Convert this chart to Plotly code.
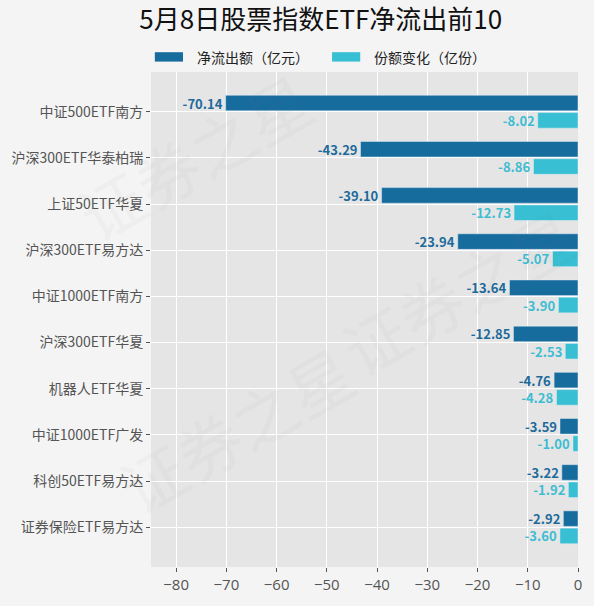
import plotly.graph_objects as go

# 5月8日 股票指数ETF 净流出前10
etf_names = [
    "中证500ETF南方",
    "沪深300ETF华泰柏瑞",
    "上证50ETF华夏",
    "沪深300ETF易方达",
    "中证1000ETF南方",
    "沪深300ETF华夏",
    "机器人ETF华夏",
    "中证1000ETF广发",
    "科创50ETF易方达",
    "证券保险ETF易方达",
]
net_outflow = [-70.14, -43.29, -39.10, -23.94, -13.64, -12.85, -4.76, -3.59, -3.22, -2.92]
share_change = [-8.02, -8.86, -12.73, -5.07, -3.90, -2.53, -4.28, -1.00, -1.92, -3.60]
series_names = ["净流出额（亿元）", "份额变化（亿份）"]
x_ticks = [-80, -70, -60, -50, -40, -30, -20, -10, 0]

blue = "#176c9e"
cyan = "#38bfd3"
font_cn = "Noto Sans CJK SC, Open Sans, sans-serif"

fig = go.Figure()

fig.add_trace(go.Bar(
    y=etf_names,
    x=net_outflow,
    orientation="h",
    name=series_names[0],
    marker_color=blue,
    texttemplate="%{x:.2f}",
    textposition="outside",
    constraintext="none",
    textfont=dict(color="#1d6a9b", size=13, family=font_cn, weight="bold"),
    cliponaxis=False,
    showlegend=False,
))

fig.add_trace(go.Bar(
    y=etf_names,
    x=share_change,
    orientation="h",
    name=series_names[1],
    marker_color=cyan,
    texttemplate="%{x:.2f}",
    textposition="outside",
    constraintext="none",
    textfont=dict(color="#3dbdd2", size=13, family=font_cn, weight="bold"),
    cliponaxis=False,
    showlegend=False,
))

# legend drawn by hand (wide swatches like the original)
legend_items = [(series_names[0], blue, 0.009), (series_names[1], cyan, 0.424)]
for label, col, x0 in legend_items:
    fig.add_shape(
        type="rect", xref="paper", yref="paper",
        x0=x0, x1=x0 + 0.066, y0=1.021, y1=1.040,
        fillcolor=col, line_width=0,
    )
    fig.add_annotation(
        x=x0 + 0.093, y=1.031, xref="paper", yref="paper",
        xanchor="left", yanchor="middle", showarrow=False,
        text=label, font=dict(size=14, color="#222222", family=font_cn),
    )

# watermark, very faint
wm_spots = [(0.10, 0.83), (0.20, 0.28), (0.72, 0.56)]
for wx, wy in wm_spots:
    fig.add_annotation(
        x=wx, y=wy, xref="paper", yref="paper",
        xanchor="center", yanchor="middle",
        text="证券之星", showarrow=False, textangle=-30,
        font=dict(size=64, color="rgba(120,120,120,0.045)", family=font_cn),
    )

fig.update_layout(
    width=594,
    height=606,
    paper_bgcolor="#f4f4f4",
    plot_bgcolor="#e5e5e5",
    margin=dict(l=151, r=14, t=72, b=36),
    title=dict(
        text="5月8日股票指数ETF净流出前10",
        x=0.54, xanchor="center", y=0.967, yanchor="middle",
        font=dict(size=26, color="#111111", family=font_cn),
    ),
    barmode="group",
    bargap=0.25,
    bargroupgap=0.1,
    showlegend=False,
    font=dict(family=font_cn),
)

fig.update_xaxes(
    range=[-85, 0],
    tickvals=x_ticks,
    showgrid=True,
    gridcolor="#ffffff",
    gridwidth=1,
    zeroline=False,
    ticks="outside",
    ticklen=4,
    tickcolor="#555555",
    tickfont=dict(size=15, color="#555555", family="Open Sans, sans-serif"),
)

fig.update_yaxes(
    range=[9.86, -0.86],
    showgrid=True,
    gridcolor="#ffffff",
    gridwidth=1,
    ticks="outside",
    ticklen=4,
    tickcolor="#555555",
    tickfont=dict(size=14, color="#555555", family=font_cn),
)

fig.write_html(
    "out.html",
    config={"displayModeBar": False},
    post_script="document.body.style.margin='0';",
)
